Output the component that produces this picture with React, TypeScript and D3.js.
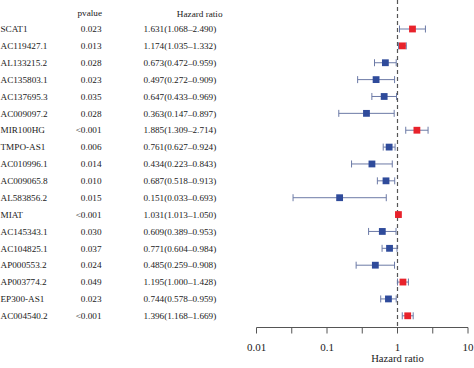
import { useRef, useEffect } from 'react'
import * as d3 from 'd3'

const genes = ['SCAT1', 'AC119427.1', 'AL133215.2', 'AC135803.1', 'AC137695.3', 'AC009097.2', 'MIR100HG', 'TMPO-AS1', 'AC010996.1', 'AC009065.8', 'AL583856.2', 'MIAT', 'AC145343.1', 'AC104825.1', 'AP000553.2', 'AP003774.2', 'EP300-AS1', 'AC004540.2']
const pvalues = ['0.023', '0.013', '0.028', '0.023', '0.035', '0.028', '<0.001', '0.006', '0.014', '0.010', '0.015', '<0.001', '0.030', '0.037', '0.024', '0.049', '0.023', '<0.001']
const hr = [1.631, 1.174, 0.673, 0.497, 0.647, 0.363, 1.885, 0.761, 0.434, 0.687, 0.151, 1.031, 0.609, 0.771, 0.485, 1.195, 0.744, 1.396]
const lower = [1.068, 1.035, 0.472, 0.272, 0.433, 0.147, 1.309, 0.627, 0.223, 0.518, 0.033, 1.013, 0.389, 0.604, 0.259, 1.0, 0.578, 1.168]
const upper = [2.49, 1.332, 0.959, 0.909, 0.969, 0.897, 2.714, 0.924, 0.843, 0.913, 0.693, 1.05, 0.953, 0.984, 0.908, 1.428, 0.959, 1.669]
const tickValues = [0.01, 0.1, 1, 10]

const App = () => {
  const chartRef = useRef<SVGSVGElement>(null)

  useEffect(() => {
    drawChart()
  }, [])

  const drawChart = () => {
    const svg = d3.select(chartRef.current)
    svg.selectAll('*').remove()
    const font = '"Liberation Serif", "Times New Roman", serif'
    const fs = 9.2

    const x = d3.scaleLog().domain([0.01, 10]).range([256.5, 468])
    const y = d3.scaleLinear().domain([0, genes.length - 1]).range([29, 315.8])
    const axisY = 327.5

    const rows = genes.map((g, i) => ({ g, p: pvalues[i], hr: hr[i], lo: lower[i], hi: upper[i], i }))

    // headers
    svg.append('text').attr('x', 102).attr('y', 13).attr('text-anchor', 'end')
      .attr('dy', '0.35em').style('font-family', font).style('font-size', fs + 'px').attr('fill', '#1a1a1a').text('pvalue')
    svg.append('text').attr('x', 222.5).attr('y', 13.3).attr('text-anchor', 'end')
      .attr('dy', '0.35em').style('font-family', font).style('font-size', fs + 'px').attr('fill', '#1a1a1a').text('Hazard ratio')

    const txt = svg.append('g').style('font-family', font).style('font-size', fs + 'px').attr('fill', '#1a1a1a')
    txt.selectAll('.gene').data(rows).enter().append('text')
      .attr('x', 0.5).attr('y', (d) => y(d.i)).attr('dy', '0.35em').text((d) => d.g)
    txt.selectAll('.pv').data(rows).enter().append('text')
      .attr('x', 101.5).attr('y', (d) => y(d.i)).attr('dy', '0.35em').attr('text-anchor', 'end').text((d) => d.p)
    txt.selectAll('.hrt').data(rows).enter().append('text')
      .attr('x', 143.5).attr('y', (d) => y(d.i)).attr('dy', '0.35em')
      .text((d) => `${d.hr.toFixed(3)}(${d.lo.toFixed(3)}\u2013${d.hi.toFixed(3)})`)

    // reference line
    svg.append('line').attr('x1', x(1)).attr('x2', x(1)).attr('y1', 0).attr('y2', axisY)
      .attr('stroke', '#555').attr('stroke-width', 1.2).attr('stroke-dasharray', '4,3')

    // whiskers
    const wc = '#6c7aa6'
    const g = svg.append('g')
    g.selectAll('.ci').data(rows).enter().append('line')
      .attr('x1', (d) => x(d.lo)).attr('x2', (d) => x(d.hi))
      .attr('y1', (d) => y(d.i)).attr('y2', (d) => y(d.i))
      .attr('stroke', wc).attr('stroke-width', 1)
    g.selectAll('.capl').data(rows).enter().append('line')
      .attr('x1', (d) => x(d.lo)).attr('x2', (d) => x(d.lo))
      .attr('y1', (d) => y(d.i) - 3.5).attr('y2', (d) => y(d.i) + 3.5)
      .attr('stroke', wc).attr('stroke-width', 1)
    g.selectAll('.caph').data(rows).enter().append('line')
      .attr('x1', (d) => x(d.hi)).attr('x2', (d) => x(d.hi))
      .attr('y1', (d) => y(d.i) - 3.5).attr('y2', (d) => y(d.i) + 3.5)
      .attr('stroke', wc).attr('stroke-width', 1)
    const s = 6.8
    g.selectAll('rect').data(rows).enter().append('rect')
      .attr('x', (d) => x(d.hr) - s / 2).attr('y', (d) => y(d.i) - s / 2)
      .attr('width', s).attr('height', s)
      .attr('fill', (d) => (d.hr > 1 ? '#e8222b' : '#2f4b9b'))

    // axis
    const ticks = d3.range(-4, 3).map((k) => Math.pow(10, k / 2))
    const ax = svg.append('g').attr('transform', `translate(0,${axisY})`)
    ax.append('line').attr('x1', x(0.01)).attr('x2', x(10)).attr('stroke', '#555').attr('stroke-width', 1)
    ax.selectAll('.tk').data(ticks).enter().append('line')
      .attr('x1', (d) => x(d)).attr('x2', (d) => x(d)).attr('y1', 0).attr('y2', 6)
      .attr('stroke', '#555').attr('stroke-width', 1)
    ax.selectAll('.tl').data(tickValues).enter().append('text')
      .attr('x', (d) => x(d)).attr('y', 19.5).attr('dy', '0.35em').attr('text-anchor', 'middle')
      .style('font-family', font).style('font-size', '11px').attr('fill', '#1a1a1a')
      .text((d) => String(d))
    svg.append('text').attr('x', x(1)).attr('y', 358).attr('dy', '0.35em').attr('text-anchor', 'middle')
      .style('font-family', font).style('font-size', '10.6px').attr('fill', '#1a1a1a').text('Hazard ratio')
  }

  return (
    <svg ref={chartRef} width={474} height={368} style={{ position: 'absolute', left: 0, top: 0, background: '#fff' }}></svg>
  )
}

export default App
